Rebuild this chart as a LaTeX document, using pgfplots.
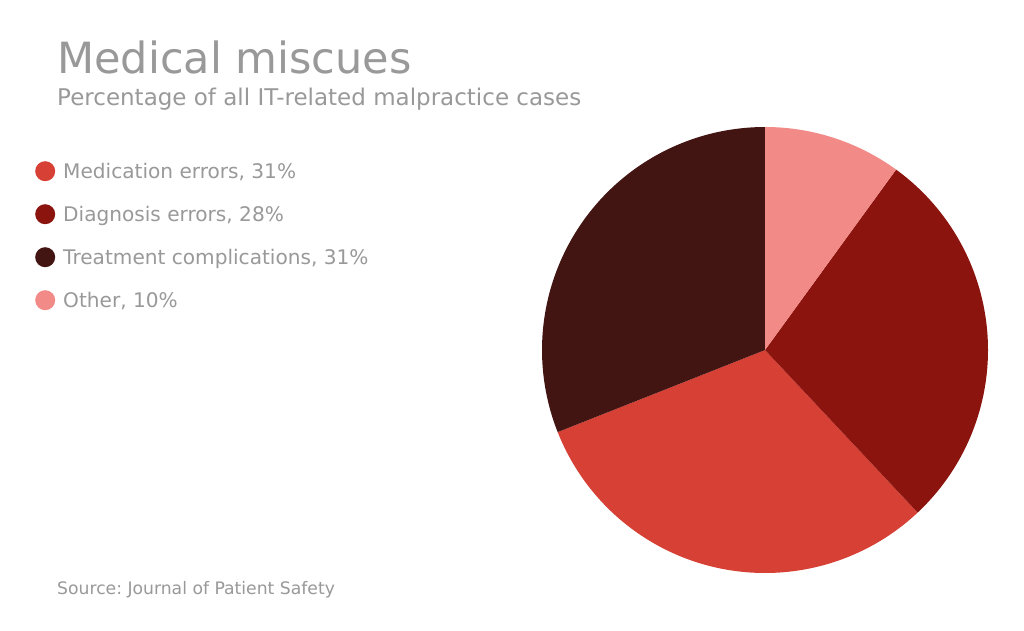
\documentclass[border=0pt]{standalone}
\usepackage{pgfplots}
\pgfplotsset{compat=1.18}
\usepackage{fontspec}
\setmainfont{DejaVu Sans}
\frenchspacing

\definecolor{txtgray}{HTML}{999999}
\definecolor{cMed}{HTML}{D64035}
\definecolor{cDia}{HTML}{8C140E}
\definecolor{cTre}{HTML}{421412}
\definecolor{cOth}{HTML}{F28A87}

% shares of IT-related malpractice cases (percent)
\def\vMed{31}
\def\vDia{28}
\def\vTre{31}
\def\vOth{10}

% slice angles, clockwise from 12 o'clock: Other, Diagnosis, Medication, Treatment
\pgfmathsetmacro{\aStart}{90}
\pgfmathsetmacro{\aOth}{\aStart-3.6*\vOth}
\pgfmathsetmacro{\aDia}{\aOth-3.6*\vDia}
\pgfmathsetmacro{\aMed}{\aDia-3.6*\vMed}
\pgfmathsetmacro{\aTre}{\aMed-3.6*\vTre}

% pie centre and radius in canvas units
\def\cx{765}
\def\cy{280}
\def\rr{223}

\begin{document}
\begin{tikzpicture}
\begin{axis}[
  scale only axis,
  width=1024pt, height=630pt,
  xmin=0, xmax=1024, ymin=0, ymax=630,
  hide axis, clip=false,
  legend cell align=left,
  legend image code/.code={\fill (10pt,0pt) circle (10pt);},
  legend style={
    at={(axis cs:35,469)}, anchor=north west,
    draw=none, fill=none, inner sep=0pt,
    font=\fontsize{20.1}{20.1}\selectfont, text=txtgray,
    row sep=23pt,
    nodes={inner sep=0pt, text depth=0pt},
    column sep=8pt,
  },
]
\fill[white] (axis cs:0,0) rectangle (axis cs:1024,630);

\addplot[draw=none, fill=cMed, domain=\aMed:\aDia, samples=120]
  ({\cx+\rr*cos(x)}, {\cy+\rr*sin(x)}) -- (axis cs:\cx,\cy) -- cycle;
\addlegendentry{Medication errors, 31\%}
\addplot[draw=none, fill=cDia, domain=\aDia:\aOth, samples=120]
  ({\cx+\rr*cos(x)}, {\cy+\rr*sin(x)}) -- (axis cs:\cx,\cy) -- cycle;
\addlegendentry{Diagnosis errors, 28\%}
\addplot[draw=none, fill=cTre, domain=\aTre:\aMed, samples=120]
  ({\cx+\rr*cos(x)}, {\cy+\rr*sin(x)}) -- (axis cs:\cx,\cy) -- cycle;
\addlegendentry{Treatment complications, 31\%}
\addplot[draw=none, fill=cOth, domain=\aOth:\aStart, samples=60]
  ({\cx+\rr*cos(x)}, {\cy+\rr*sin(x)}) -- (axis cs:\cx,\cy) -- cycle;
\addlegendentry{Other, 10\%}

\node[anchor=base west, inner sep=0pt, text=txtgray, font=\fontsize{43}{43}\selectfont]
  at (axis cs:57,556) {Medical miscues};
\node[anchor=base west, inner sep=0pt, text=txtgray, font=\fontsize{23}{23}\selectfont]
  at (axis cs:57,524) {Percentage of all IT-related malpractice cases};
\node[anchor=base west, inner sep=0pt, text=txtgray, font=\fontsize{17.2}{17.2}\selectfont]
  at (axis cs:57,36) {Source: Journal of Patient Safety};
\end{axis}
\end{tikzpicture}
\end{document}
